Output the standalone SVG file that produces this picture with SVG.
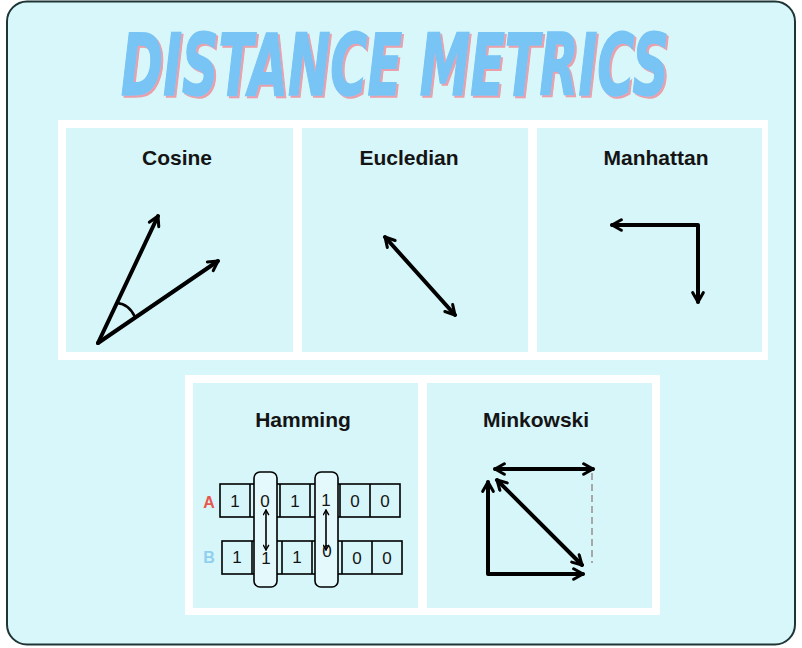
<svg xmlns="http://www.w3.org/2000/svg" width="802" height="648" viewBox="0 0 802 648">
<defs>
<style>
.ttl{font-family:"DejaVu Sans Condensed","DejaVu Sans",sans-serif;font-weight:bold;font-style:italic;font-size:86px}
.lbl{font-family:"Liberation Sans",Arial,sans-serif;font-weight:bold;font-size:21px;fill:#141414}
.dig{font-family:"Liberation Sans",Arial,sans-serif;font-size:17px;fill:#141414;text-anchor:middle}
.frame{fill:#ffffff}
.panel{fill:#d6f6f9}
.arr{fill:none;stroke:#000;stroke-width:4;stroke-linecap:round;stroke-linejoin:round}
.thin{fill:none;stroke:#000;stroke-width:1.6;stroke-linecap:round}
.cell{fill:none;stroke:#000;stroke-width:1.6}
.cap{fill:#e4f9fb;stroke:#000;stroke-width:1.6}
</style>
<filter id="shadow" x="-20%" y="-40%" width="140%" height="180%">
<feOffset in="SourceAlpha" dx="3" dy="2" result="off"/>
<feFlood flood-color="#e9a0aa"/>
<feComposite in2="off" operator="in" result="sh"/>
<feMerge><feMergeNode in="sh"/><feMergeNode in="SourceGraphic"/></feMerge>
</filter>
<marker id="ah" viewBox="0 0 12 12" refX="10" refY="6" markerWidth="14" markerHeight="14" markerUnits="userSpaceOnUse" orient="auto-start-reverse">
<path d="M2,1.5 L10,6 L2,10.5" fill="none" stroke="#000" stroke-width="2.6" stroke-linecap="round" stroke-linejoin="round"/>
</marker>
<marker id="ahs" viewBox="0 0 12 12" refX="10" refY="6" markerWidth="7" markerHeight="7" markerUnits="userSpaceOnUse" orient="auto-start-reverse">
<path d="M2,1.5 L10,6 L2,10.5" fill="none" stroke="#000" stroke-width="2.4" stroke-linecap="round" stroke-linejoin="round"/>
</marker>
</defs>
<rect width="802" height="648" fill="#ffffff"/>
<rect x="7" y="1.5" width="788" height="643" rx="20" fill="#d8f7fb" stroke="#1f3535" stroke-width="2"/>
<g id="title" transform="translate(395,95) scale(0.655,1)">
<text class="ttl" x="0" y="0" text-anchor="middle" fill="#77c4f5" stroke="#77c4f5" stroke-width="1.5" filter="url(#shadow)">DISTANCE METRICS</text>
</g>
<rect class="frame" x="58" y="120" width="710" height="240"/>
<rect class="frame" x="185" y="375" width="475" height="240"/>
<g id="cosine">
<rect class="panel" x="66" y="128" width="227" height="224"/>
<text class="lbl" x="177" y="165" text-anchor="middle">Cosine</text>
</g>
<g id="eucledian">
<rect class="panel" x="302" y="128" width="226" height="224"/>
<text class="lbl" x="409" y="165" text-anchor="middle">Eucledian</text>
</g>
<g id="manhattan">
<rect class="panel" x="537" y="128" width="225" height="224"/>
<text class="lbl" x="656" y="165" text-anchor="middle">Manhattan</text>
</g>
<g id="hamming">
<rect class="panel" x="193" y="383" width="225" height="225"/>
<text class="lbl" x="303" y="427" text-anchor="middle">Hamming</text>
<text x="209" y="508" font-family="Liberation Sans,Arial,sans-serif" font-weight="bold" font-size="16" fill="#e8574f" text-anchor="middle">A</text>
<text x="209" y="563" font-family="Liberation Sans,Arial,sans-serif" font-weight="bold" font-size="16" fill="#8fd0f0" text-anchor="middle">B</text>
<rect class="cell" x="220" y="484" width="180" height="33"/>
<path class="cell" d="M250,484V517M280,484V517M310,484V517M340,484V517M370,484V517"/>
<rect class="cell" x="222" y="541" width="180" height="33"/>
<path class="cell" d="M252,541V574M282,541V574M312,541V574M342,541V574M372,541V574"/>
<rect class="cap" x="254" y="472" width="23" height="115" rx="6"/>
<rect class="cap" x="315" y="472" width="23" height="115" rx="6"/>
<text class="dig" x="235" y="507">1</text>
<text class="dig" x="265" y="507">0</text>
<text class="dig" x="295" y="507">1</text>
<text class="dig" x="326" y="506">1</text>
<text class="dig" x="355" y="507">0</text>
<text class="dig" x="385" y="507">0</text>
<text class="dig" x="237" y="563">1</text>
<text class="dig" x="266" y="564">1</text>
<text class="dig" x="297" y="563">1</text>
<text class="dig" x="327" y="557">0</text>
<text class="dig" x="357" y="564">0</text>
<text class="dig" x="387" y="564">0</text>
</g>
<g id="minkowski">
<rect class="panel" x="427" y="383" width="225" height="225"/>
<text class="lbl" x="536" y="427" text-anchor="middle">Minkowski</text>
</g>
<g id="connectors">
<line class="arr" x1="98" y1="343" x2="158" y2="216" marker-end="url(#ah)"/>
<line class="arr" x1="98" y1="343" x2="218" y2="261" marker-end="url(#ah)"/>
<path d="M117,303 Q129,304 135,317" fill="none" stroke="#000" stroke-width="2.6"/>
<line class="arr" x1="385" y1="237" x2="455" y2="315" marker-start="url(#ah)" marker-end="url(#ah)"/>
<path class="arr" d="M612,225 H698 V302" marker-start="url(#ah)" marker-end="url(#ah)"/>
<line class="thin" x1="266" y1="510" x2="266" y2="550" marker-start="url(#ahs)" marker-end="url(#ahs)"/>
<line class="thin" x1="326" y1="510" x2="326" y2="550" marker-start="url(#ahs)" marker-end="url(#ahs)"/>
<line class="arr" x1="495" y1="469" x2="593" y2="469" marker-start="url(#ah)" marker-end="url(#ah)"/>
<path class="arr" d="M488,482 V574 H583" marker-start="url(#ah)" marker-end="url(#ah)"/>
<line class="arr" x1="497" y1="480" x2="582" y2="565" marker-start="url(#ah)" marker-end="url(#ah)"/>
<line x1="592" y1="473" x2="592" y2="563" stroke="#a8a8a8" stroke-width="2" stroke-dasharray="7 4"/>
</g>
</svg>
